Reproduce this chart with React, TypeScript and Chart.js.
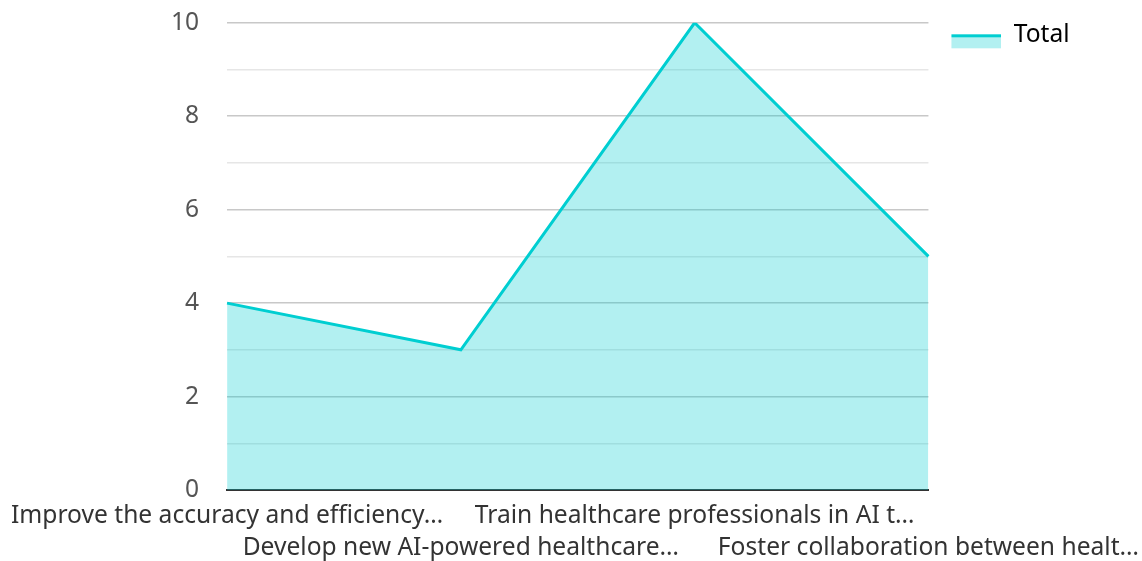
import React, { useEffect, useRef } from "react";
import { Chart, registerables } from "chart.js";

Chart.register(...registerables);

const categories = [
  "Improve the accuracy and efficiency…",
  "Develop new AI-powered healthcare…",
  "Train healthcare professionals in AI t…",
  "Foster collaboration between healt…",
];
const totalValues = [4, 3, 10, 5];
const seriesName = "Total";

const LINE = "#00CED1";
const FILL = "rgba(0, 206, 209, 0.3)";
const FONT = "'Noto Sans', sans-serif";
const FS = 24.6;

function makeLegendImage(): HTMLCanvasElement {
  const c = document.createElement("canvas");
  c.width = 63;
  c.height = 28;
  const ctx = c.getContext("2d")!;
  ctx.fillStyle = FILL;
  ctx.fillRect(13, 13, 50, 14);
  ctx.fillStyle = LINE;
  ctx.fillRect(13, 13, 50, 3);
  return c;
}

export default function App() {
  const ref = useRef<HTMLCanvasElement | null>(null);
  useEffect(() => {
    document.body.style.margin = "0";
    document.body.style.overflow = "hidden";
    const img = makeLegendImage();
    const chart = new Chart(ref.current!, {
      type: "line",
      data: {
        labels: categories,
        datasets: [
          {
            label: seriesName,
            data: totalValues,
            borderColor: LINE,
            backgroundColor: FILL,
            borderWidth: 3,
            fill: "origin",
            pointRadius: 0,
            tension: 0,
          },
        ],
      },
      options: {
        animation: false,
        responsive: false,
        layout: { padding: { left: 0, right: 0, top: 13, bottom: 0 } },
        plugins: {
          legend: {
            position: "right",
            align: "start",
            labels: {
              usePointStyle: true,
              pointStyleWidth: 63,
              boxHeight: 14,
              color: "#333",
              font: { size: FS, family: FONT },
              padding: 10,
              generateLabels: (ch: any) =>
                ch.data.datasets.map((ds: any, i: number) => ({
                  text: ds.label,
                  pointStyle: img,
                  fillStyle: FILL,
                  strokeStyle: LINE,
                  lineWidth: 0,
                  hidden: false,
                  datasetIndex: i,
                })),
            },
          },
          tooltip: { enabled: false },
        },
        scales: {
          x: {
            offset: false,
            grid: { display: false, drawTicks: false },
            border: { display: true, color: "#333", width: 2 },
            afterFit: (s: any) => {
              s.paddingLeft = Math.max(s.paddingLeft + 1, 0);
              s.paddingRight = Math.max(s.paddingRight - 7, 0);
              s.height = s.height - 13;
            },
            ticks: {
              autoSkip: false,
              maxRotation: 0,
              minRotation: 0,
              padding: 10,
              color: "#333",
              font: { size: FS, family: FONT, lineHeight: 32 / FS },
              callback: function (this: any, _v: any, i: number) {
                const l = categories[i];
                return i % 2 === 1 ? ["", l] : [l];
              },
            },
          },
          y: {
            min: 0,
            max: 10,
            border: { display: false },
            grid: {
              drawTicks: true,
              tickLength: 20,
              tickColor: "rgba(0,0,0,0)",
              color: (ctx: any) =>
                ctx.tick && ctx.tick.value % 2 === 0 ? "#c8c8c8" : "#e6e6e6",
              lineWidth: 1.5,
            },
            ticks: {
              stepSize: 1,
              padding: 8,
              color: "#555",
              font: { size: FS, family: FONT },
              callback: (v: any) => (Number(v) % 2 === 0 ? String(v) : ""),
            },
          },
        },
      },
    });
    return () => chart.destroy();
  }, []);
  return (
    <div style={{ width: 1142, height: 561 }}>
      <canvas ref={ref} width={1142} height={561} style={{ display: "block" }} />
    </div>
  );
}
